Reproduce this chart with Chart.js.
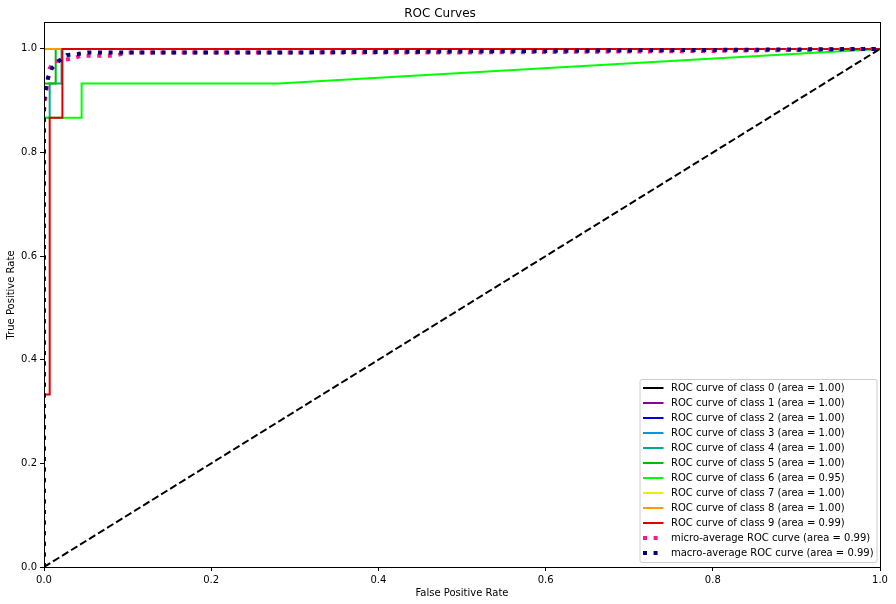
<!DOCTYPE html>
<html>
<head>
<meta charset="utf-8">
<title>ROC Curves</title>
<script src="https://cdn.jsdelivr.net/npm/chart.js@4.4.1/dist/chart.umd.min.js"></script>
<style>
    html, body { margin: 0; padding: 0; background: #ffffff; }
    #wrap { width: 896px; height: 604px; }
</style>
</head>
<body>
<div id="wrap"><canvas id="roc_chart" width="896" height="604"></canvas></div>
<script>
(function () {
    "use strict";

    // --- data ---
    var classNames = ["0", "1", "2", "3", "4", "5", "6", "7", "8", "9"];
    var classAreas = ["1.00", "1.00", "1.00", "1.00", "1.00", "1.00", "0.95", "1.00", "1.00", "0.99"];
    var classColors = ["#000000", "#880099", "#0000dd", "#0099dd", "#00aa88",
                       "#00bb00", "#00ff00", "#eeee00", "#ff9900", "#dd0000"];

    var fprPerfect = [0, 0, 1];
    var tprPerfect = [0, 1, 1];

    var fprClass4 = [0, 0, 0.0068, 0.0068, 0.021, 0.021, 1];
    var tprClass4 = [0, 0.867, 0.867, 0.933, 0.933, 1, 1];

    var fprClass5 = [0, 0, 0.014, 0.014, 1];
    var tprClass5 = [0, 0.933, 0.933, 1, 1];

    var fprClass6 = [0, 0, 0.045, 0.045, 0.28, 1];
    var tprClass6 = [0, 0.867, 0.867, 0.933, 0.933, 1];

    var fprClass9 = [0, 0, 0.0068, 0.0068, 0.022, 0.022, 1];
    var tprClass9 = [0, 0.333, 0.333, 0.867, 0.867, 1, 1];

    var fprMicro = [0, 0, 0.0016, 0.0064, 0.011, 0.02, 0.033, 0.045, 0.085, 0.1, 0.5, 0.8, 1];
    var tprMicro = [0, 0.88, 0.905, 0.961, 0.975, 0.978, 0.981, 0.987, 0.987, 0.993, 0.993, 0.996, 1];
    var microArea = "0.99";

    var fprMacro = [0, 0, 0.0024, 0.0048, 0.0096, 0.018, 0.027, 0.04, 0.052, 0.28, 1];
    var tprMacro = [0, 0.9, 0.925, 0.944, 0.963, 0.977, 0.988, 0.99, 0.993, 0.993, 1];
    var macroArea = "0.99";

    var diagX = [0, 1];
    var diagY = [0, 1];

    var xTicks = [0, 0.2, 0.4, 0.6, 0.8, 1.0];
    var yTicks = [0, 0.2, 0.4, 0.6, 0.8, 1.0];

    var fprByClass = [fprPerfect, fprPerfect, fprPerfect, fprPerfect, fprClass4,
                      fprClass5, fprClass6, fprPerfect, fprPerfect, fprClass9];
    var tprByClass = [tprPerfect, tprPerfect, tprPerfect, tprPerfect, tprClass4,
                      tprClass5, tprClass6, tprPerfect, tprPerfect, tprClass9];

    var FONT = "'DejaVu Sans', 'Liberation Sans', sans-serif";

    function toPoints(xs, ys) {
        var pts = [];
        for (var i = 0; i < xs.length; i++) {
            pts.push({ x: xs[i], y: ys[i] });
        }
        return pts;
    }

    var datasets = [];
    classNames.forEach(function (name, i) {
        datasets.push({
            label: "ROC curve of class " + name + " (area = " + classAreas[i] + ")",
            data: toPoints(fprByClass[i], tprByClass[i]),
            borderColor: classColors[i],
            borderWidth: 2,
            inLegend: true
        });
    });
    datasets.push({
        label: "micro-average ROC curve (area = " + microArea + ")",
        data: toPoints(fprMicro, tprMicro),
        borderColor: "#ff1493",
        borderWidth: 4,
        borderDash: [4, 6.6],
        inLegend: true
    });
    datasets.push({
        label: "macro-average ROC curve (area = " + macroArea + ")",
        data: toPoints(fprMacro, tprMacro),
        borderColor: "#000080",
        borderWidth: 4,
        borderDash: [4, 6.6],
        inLegend: true
    });
    datasets.push({
        label: "chance",
        data: toPoints(diagX, diagY),
        borderColor: "#000000",
        borderWidth: 2,
        borderDash: [7.4, 3.2],
        inLegend: false
    });

    // later series on top, like the original plot
    datasets.forEach(function (ds, i) {
        ds.order = -i;
        ds.showLine = true;
        ds.fill = false;
        ds.tension = 0;
        ds.pointRadius = 0;
        ds.pointHoverRadius = 0;
        ds.borderCapStyle = "butt";
        ds.borderJoinStyle = "miter";
        ds.clip = 0;
    });

    // axes frame + legend box in the lower right corner
    var framePlugin = {
        id: "frameAndLegend",
        afterDatasetsDraw: function (chart) {
            var ctx = chart.ctx;
            var a = chart.chartArea;
            ctx.save();
            ctx.strokeStyle = "#000000";
            ctx.lineWidth = 1;
            var fl = Math.round(a.left) + 0.5;
            var ft = Math.round(a.top) - 0.5;
            var fr = Math.round(a.right) + 0.5;
            var fb = Math.round(a.bottom) + 0.5;
            ctx.strokeRect(fl, ft, fr - fl, fb - ft);

            var items = chart.data.datasets.filter(function (d) { return d.inLegend; });
            var rowH = 15;
            var boxW = 237;
            var boxH = items.length * rowH + 3;
            var boxR = a.right - 3.5;
            var boxB = a.bottom - 5;
            var boxL = boxR - boxW;
            var boxT = boxB - boxH;

            ctx.beginPath();
            if (ctx.roundRect) {
                ctx.roundRect(boxL + 0.5, boxT + 0.5, boxW, boxH, 2);
            } else {
                ctx.rect(boxL + 0.5, boxT + 0.5, boxW, boxH);
            }
            ctx.fillStyle = "rgba(255,255,255,0.8)";
            ctx.fill();
            ctx.strokeStyle = "#cccccc";
            ctx.lineWidth = 1;
            ctx.stroke();

            ctx.font = "10px " + FONT;
            ctx.textBaseline = "middle";
            ctx.textAlign = "left";
            items.forEach(function (d, i) {
                var y = boxT + 9 + i * rowH;
                ctx.beginPath();
                ctx.setLineDash(d.borderDash || []);
                ctx.lineDashOffset = 0;
                ctx.lineCap = "butt";
                ctx.strokeStyle = d.borderColor;
                ctx.lineWidth = d.borderWidth;
                ctx.moveTo(boxL + 3.5, y);
                ctx.lineTo(boxL + 24, y);
                ctx.stroke();
                ctx.setLineDash([]);
                ctx.fillStyle = "#000000";
                ctx.fillText(d.label, boxL + 31.5, y + 0.5);
            });
            ctx.restore();
        }
    };

    var canvas = document.getElementById("roc_chart");

    new Chart(canvas, {
        type: "scatter",
        data: { datasets: datasets },
        options: {
            responsive: false,
            animation: false,
            events: [],
            layout: { padding: { left: 0, right: 16, top: 0, bottom: 0 } },
            plugins: {
                legend: { display: false },
                tooltip: { enabled: false },
                title: {
                    display: true,
                    text: "ROC Curves",
                    color: "#000000",
                    font: { family: FONT, size: 12, weight: "normal", lineHeight: 1 },
                    padding: { top: 8, bottom: 3 }
                }
            },
            scales: {
                x: {
                    type: "linear",
                    min: 0,
                    max: 1,
                    afterFit: function (scale) { scale.height = 37; },
                    afterBuildTicks: function (scale) {
                        scale.ticks = xTicks.map(function (v) { return { value: v }; });
                    },
                    grid: { display: true, drawOnChartArea: false, drawTicks: true, tickLength: 4, color: "#000000", lineWidth: 1 },
                    border: { display: false },
                    ticks: {
                        color: "#000000",
                        padding: 3,
                        maxRotation: 0,
                        font: { family: FONT, size: 10 },
                        callback: function (v) { return Number(v).toFixed(1); }
                    },
                    title: {
                        display: true,
                        text: "False Positive Rate",
                        color: "#000000",
                        font: { family: FONT, size: 10 },
                        padding: { top: 0, bottom: 5 }
                    }
                },
                y: {
                    type: "linear",
                    min: 0,
                    max: 1.05,
                    afterFit: function (scale) { scale.width = 44; },
                    afterBuildTicks: function (scale) {
                        scale.ticks = yTicks.map(function (v) { return { value: v }; });
                    },
                    grid: { display: true, drawOnChartArea: false, drawTicks: true, tickLength: 4, color: "#000000", lineWidth: 1 },
                    border: { display: false },
                    ticks: {
                        color: "#000000",
                        padding: 3,
                        font: { family: FONT, size: 10 },
                        callback: function (v) { return Number(v).toFixed(1); }
                    },
                    title: {
                        display: true,
                        text: "True Positive Rate",
                        color: "#000000",
                        font: { family: FONT, size: 10 },
                        padding: { top: 5, bottom: 0 }
                    }
                }
            }
        },
        plugins: [framePlugin]
    });
})();
</script>
</body>
</html>
